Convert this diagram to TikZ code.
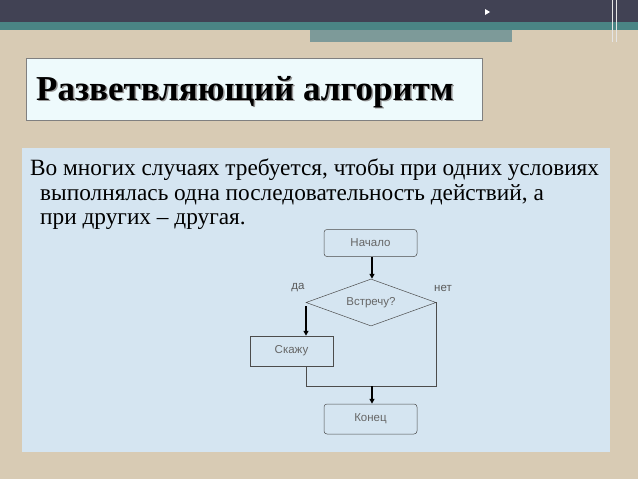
\documentclass[tikz,border=0pt]{standalone}
\usepackage{fontspec}
\setmainfont{Liberation Serif}
\newfontfamily\fsans{Liberation Sans}
\usetikzlibrary{shapes.geometric,arrows.meta}
\definecolor{bg}{HTML}{D8CBB4}
\definecolor{darkbar}{HTML}{414254}
\definecolor{teal1}{HTML}{4A8585}
\definecolor{teal2}{HTML}{7D9A99}
\definecolor{titlefill}{HTML}{EEFAFC}
\definecolor{bodyfill}{HTML}{D5E5F1}
\tikzset{
  px/.style={x=1pt,y=-1pt},
  fbox/.style={draw=black!70,line width=0.5pt,fill=bodyfill,minimum width=93pt,minimum height=27pt,font=\fsans\fontsize{11.5}{12}\selectfont,text=black!60},
  rbox/.style={fbox,rounded corners=3pt},
  cline/.style={draw=black!70,line width=0.6pt},
  carrow/.style={draw=black,line width=1.6pt,-{Triangle[length=5pt,width=5pt]}},
  lbl/.style={font=\fsans\fontsize{11.5}{12}\selectfont,text=black!65}
}
\begin{document}
\begin{tikzpicture}[px]
\useasboundingbox (0,0) rectangle (638,479);
\fill[bg] (0,0) rectangle (638,479);
\fill[darkbar] (0,0) rectangle (638,22);
\fill[teal1] (0,22) rectangle (638,30);
\fill[teal2] (310,30) rectangle (512,42);
\fill[white] (485,9) -- (490,12) -- (485,15) -- cycle;
\draw[white!80!gray,line width=1pt] (612,0) -- (612,42) (616,0) -- (616,42);
% title
\node[draw=gray,line width=0.8pt,fill=titlefill,minimum width=456pt,minimum height=62pt,anchor=north west,inner sep=0pt] (title) at (26,58) {};
\node[anchor=west,inner sep=0pt,font=\bfseries\fontsize{35}{38}\selectfont,text=black!40,xshift=1.5pt,yshift=-1.5pt] (titleshadow) at (36,92) {Разветвляющий алгоритм};
\node[anchor=west,inner sep=0pt,font=\bfseries\fontsize{35}{38}\selectfont] (titletext) at (36,92) {Разветвляющий алгоритм};
% body
\fill[bodyfill] (22,148) rectangle (610,452);
\node[anchor=north west,align=left,font=\fontsize{23.3}{24.5}\selectfont,inner sep=0pt] (body) at (30,159)
{Во многих случаях требуется, чтобы при одних условиях\\
\hspace*{10pt}выполнялась одна последовательность действий, а\\
\hspace*{10pt}при других – другая.};
% flowchart
\node[rbox] (start) at (370.5,243) {Начало};
\node[draw=black!70,line width=0.5pt,diamond,aspect=2.77,minimum width=130pt,minimum height=47pt,inner sep=0pt,font=\fsans\fontsize{11.5}{12}\selectfont,text=black!60] (cond) at (371,302.5) {Встречу?};
\node[fbox,minimum width=83pt,minimum height=30pt] (say) at (291.5,351) {Скажу};
\node[rbox,minimum height=30pt] (end) at (370.5,419) {Конец};
\node[lbl] (yes) at (298,288) {да};
\node[lbl] (no) at (443,288) {нет};
\coordinate (join) at (372,386);
\coordinate (sayin) at (306,306);
\coordinate (joinL) at (306,386);
\coordinate (joinR) at (436,386);
\draw[carrow] (start.south -| join) -- (cond.north -| join);
\draw[carrow] (sayin) -- (sayin |- say.north);
\draw[cline] (sayin |- say.south) -- (joinL) -- (joinR) -- (joinR |- cond.east) -- (cond.east);
\draw[carrow] (join) -- (end.north -| join);
\end{tikzpicture}
\end{document}
